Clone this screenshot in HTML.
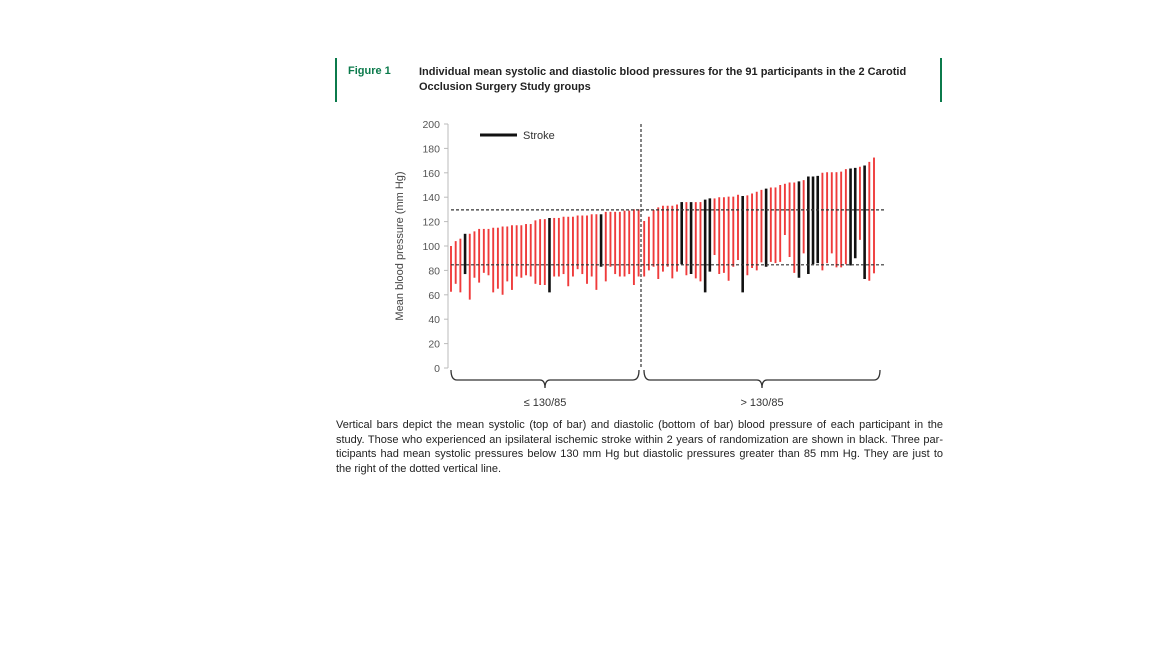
<!DOCTYPE html>
<html><head><meta charset="utf-8"><style>
body{margin:0;width:1152px;height:648px;background:#fff;font-family:"Liberation Sans",sans-serif;position:relative;overflow:hidden}
.abs{position:absolute}
.cap div{text-align:justify;text-align-last:justify;white-space:nowrap;height:14.5px}
.cap div.last{text-align-last:left}
</style></head><body>
<div class="abs" style="left:335px;top:58px;width:2px;height:44px;background:#0b7a4b"></div>
<div class="abs" style="left:940px;top:58px;width:2px;height:44px;background:#0b7a4b"></div>
<div class="abs" style="left:348px;top:65px;font-size:11px;font-weight:bold;color:#0b7a4b">Figure 1</div>
<div class="abs" style="left:419px;top:65px;width:510px;font-size:11px;font-weight:bold;line-height:15px;color:#222">Individual mean systolic and diastolic blood pressures for the 91 participants in the 2 Carotid Occlusion Surgery Study groups</div>
<svg class="abs" style="left:0;top:0" width="1152" height="648" id="chart"></svg>
<div class="abs cap" style="left:336px;top:418px;width:607px;font-size:11px;line-height:14.5px;color:#222">
<div>Vertical bars depict the mean systolic (top of bar) and diastolic (bottom of bar) blood pressure of each participant in the</div>
<div>study. Those who experienced an ipsilateral ischemic stroke within 2 years of randomization are shown in black. Three par-</div>
<div>ticipants had mean systolic pressures below 130 mm Hg but diastolic pressures greater than 85 mm Hg. They are just to</div>
<div class="last">the right of the dotted vertical line.</div>
</div>
<script>
const systolic=[100,104,106,110,110,112,114,114,114,115,115,116,116,117,117,117,118,118,121,122,122,123,123,123,124,124,124,125,125,125,126,126,126,128,128,128,128,129,129,130,130,
120.5,124,129.5,131.7,133,133,133,134,136,136,136,136,136,138,139,139,140,140,140.5,140.5,142,141,141.5,143,144.5,146,147,148,148,150,151,152,152,153,154,157,157,157.5,160,160.5,160.5,160.5,161,163,163.5,164,165,166,169,172.5];
const diastolic=[62.5,69,62,77,56,74,70,78,76,62,65,60,71,64,75,74,76,75,69,68,68,62,75,75,77,67,75,81,77,69,75,64,83,71,83,77,75,75,77,68,75,
75,80,83,73,79,83,73.5,79,85,76,77,73.5,71,62,79,92.6,77,78,71.5,83,88.5,62,76,82,80,86.6,83,87,86,87,109,91,78,74,94,77,85,86,80,86,94,82.5,82.5,85,84,90,105,73,71.5,77.6];
const stroke=[3,21,32,49,51,54,55,62,67,74,76,77,78,85,86,88];
const yTicks=[0,20,40,60,80,100,120,140,160,180,200];
const NS="http://www.w3.org/2000/svg",svg=document.getElementById('chart');
const y=v=>368-v*1.22, x=i=>451+i*4.69+(i>=41?0.9:0);
function el(t,a,txt){const e=document.createElementNS(NS,t);for(const k in a)e.setAttribute(k,a[k]);if(txt!=null)e.textContent=txt;svg.appendChild(e);return e;}
let a=el('line',{x1:448,y1:y(0),x2:448,y2:y(200),stroke:'#bbb','stroke-width':1});


yTicks.forEach(t=>{
 const tk=el('line',{x1:444,x2:448,y1:y(t),y2:y(t),stroke:'#bbb'});
 
 
 const lb=el('text',{x:440,y:y(t)+4,'text-anchor':'end','font-size':10.5,fill:'#555'},t);
 
 
});
const yt=el('text',{x:0,y:0,transform:'translate(403,246) rotate(-90)','text-anchor':'middle','font-size':11,fill:'#444'},'Mean blood pressure (mm Hg)');


systolic.forEach((s,i)=>{
 const bk=stroke.includes(i);
 const b=el('line',{x1:x(i),x2:x(i),y1:y(s),y2:y(diastolic[i]),stroke:bk?'#111':'#ef3b3b','stroke-width':bk?2.6:1.9});
 
 
});
[[130,'systolic-threshold-line'],[85,'diastolic-threshold-line']].forEach(([v,n])=>{
 const l=el('line',{x1:451,x2:886,y1:y(v)+0.5,y2:y(v)+0.5,stroke:'#333','stroke-width':1.2,'stroke-dasharray':'3,2'});
 
 
});
const vl=el('line',{x1:641,x2:641,y1:124,y2:368,stroke:'#333','stroke-width':1.2,'stroke-dasharray':'3,2'});


const lg=el('line',{x1:480,x2:517,y1:135,y2:135,stroke:'#111','stroke-width':3});


const lt=el('text',{x:523,y:139,'font-size':11,fill:'#333'},'Stroke');


function brace(x1,x2,lab,n){
 const m=(x1+x2)/2;
 const p=el('path',{d:`M${x1},370 Q${x1},380 ${x1+6},380 L${m-5},380 Q${m},380 ${m},388 Q${m},380 ${m+5},380 L${x2-6},380 Q${x2},380 ${x2},370`,fill:'none',stroke:'#333','stroke-width':1.3});
 
 
 const t=el('text',{x:m,y:406,'text-anchor':'middle','font-size':11,fill:'#333'},lab);
 
 
}
brace(451,639,'≤ 130/85','low-group');
brace(644,880,'> 130/85','high-group');
</script>
</body></html>
